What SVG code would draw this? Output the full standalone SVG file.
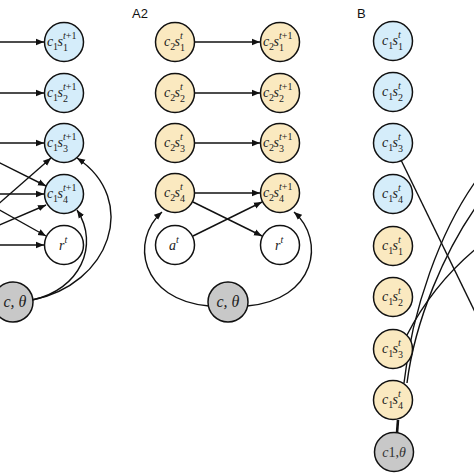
<svg xmlns="http://www.w3.org/2000/svg" width="474" height="474" viewBox="0 0 474 474">
<style>
.n{stroke:#111;stroke-width:1.5}
.blue{fill:#d5edfa}.yel{fill:#fae9c0}.wht{fill:#fff}.gry{fill:#c8c8c8}
.t{font-family:"Liberation Serif",serif;font-style:italic;font-size:14px;fill:#222}
.s{font-size:10px;font-style:normal}
.i{font-style:italic}
.e{fill:none;stroke:#111;stroke-width:1.4}
.p{font-family:"Liberation Sans",Arial,sans-serif;font-size:13px;fill:#111}
</style>
<defs>
<marker id="ah" viewBox="0 0 10 10" refX="10" refY="5" markerWidth="8" markerHeight="8" markerUnits="userSpaceOnUse" orient="auto"><path d="M0,1 L10,5 L0,9 z" fill="#111"/></marker>
</defs>
<rect width="474" height="474" fill="#fff"/>
<text class="p" x="132" y="18">A2</text>
<text class="p" x="357" y="18">B</text>

<g id="connectors">
<path class="e" marker-end="url(#ah)" d="M-5,42 L44,42"/>
<path class="e" marker-end="url(#ah)" d="M-5,93 L44,93"/>
<path class="e" marker-end="url(#ah)" d="M-5,143 L44,143"/>
<path class="e" marker-end="url(#ah)" d="M-5,194 L44,194"/>
<path class="e" marker-end="url(#ah)" d="M-5,245 L44,245"/>
<path class="e" marker-end="url(#ah)" d="M-5,160.6 L46,186"/>
<path class="e" marker-end="url(#ah)" d="M-5,207 L51,158"/>
<path class="e" marker-end="url(#ah)" d="M-5,227 L46,205"/>
<path class="e" marker-end="url(#ah)" d="M-5,207.5 L46,236"/>
<path class="e" marker-end="url(#ah)" d="M32,300 C110,285 140,200 77,158"/>
<path class="e" marker-end="url(#ah)" d="M32,300 C80,290 100,245 77,210"/>
<path class="e" marker-end="url(#ah)" d="M195,42 L260,42"/>
<path class="e" marker-end="url(#ah)" d="M195,93 L260,93"/>
<path class="e" marker-end="url(#ah)" d="M195,143 L260,143"/>
<path class="e" marker-end="url(#ah)" d="M195,193 L260,193"/>
<path class="e" marker-end="url(#ah)" d="M193,202 L262,236"/>
<path class="e" marker-end="url(#ah)" d="M193,236 L262,202"/>
<path class="e" marker-end="url(#ah)" d="M209,306 C140,300 130,240 162,212"/>
<path class="e" marker-end="url(#ah)" d="M247,306 C316,300 326,240 294,212"/>
<path class="e" d="M401,160 L478,318"/>
<path class="e" d="M404,383 C412,310 440,230 478,178"/>
<path class="e" d="M407,383 C415,320 445,250 478,204"/>
<path class="e" d="M407,335 C425,300 450,270 478,247"/>
<path d="M398,420 L397,433" stroke="#111" stroke-width="2.6"/>
</g>

<g id="a1-c1s1n"><circle class="n blue" cx="64" cy="42" r="19.5"/><text class="t"><tspan x="47" y="46">c</tspan><tspan class="s" x="53" y="50">1</tspan><tspan x="57.5" y="46">s</tspan><tspan class="s" x="63" y="39"><tspan class="i">t</tspan>+1</tspan><tspan class="s" x="63" y="51">1</tspan></text></g>
<g id="a1-c1s2n"><circle class="n blue" cx="64" cy="93" r="19.5"/><text class="t"><tspan x="47" y="97">c</tspan><tspan class="s" x="53" y="101">1</tspan><tspan x="57.5" y="97">s</tspan><tspan class="s" x="63" y="90"><tspan class="i">t</tspan>+1</tspan><tspan class="s" x="63" y="102">2</tspan></text></g>
<g id="a1-c1s3n"><circle class="n blue" cx="64" cy="143" r="19.5"/><text class="t"><tspan x="47" y="147">c</tspan><tspan class="s" x="53" y="151">1</tspan><tspan x="57.5" y="147">s</tspan><tspan class="s" x="63" y="140"><tspan class="i">t</tspan>+1</tspan><tspan class="s" x="63" y="152">3</tspan></text></g>
<g id="a1-c1s4n"><circle class="n blue" cx="64" cy="194" r="19.5"/><text class="t"><tspan x="47" y="198">c</tspan><tspan class="s" x="53" y="202">1</tspan><tspan x="57.5" y="198">s</tspan><tspan class="s" x="63" y="191"><tspan class="i">t</tspan>+1</tspan><tspan class="s" x="63" y="203">4</tspan></text></g>
<g id="a1-r"><circle class="n wht" cx="64" cy="245" r="19.5"/><text class="t"><tspan x="59" y="250">r</tspan><tspan class="s i" x="64.5" y="243">t</tspan></text></g>
<g id="a1-ctheta"><circle class="n gry" cx="13" cy="302" r="20"/><text class="t" x="15" y="307" text-anchor="middle" style="font-size:16px">c, θ</text></g>

<g id="a2-c2s1"><circle class="n yel" cx="175" cy="42" r="19.5"/><text class="t"><tspan x="164" y="46">c</tspan><tspan class="s" x="170.2" y="50">2</tspan><tspan x="174.5" y="46">s</tspan><tspan class="s i" x="180" y="39">t</tspan><tspan class="s" x="180" y="51">1</tspan></text></g>
<g id="a2-c2s2"><circle class="n yel" cx="175" cy="93" r="19.5"/><text class="t"><tspan x="164" y="97">c</tspan><tspan class="s" x="170.2" y="101">2</tspan><tspan x="174.5" y="97">s</tspan><tspan class="s i" x="180" y="90">t</tspan><tspan class="s" x="180" y="102">2</tspan></text></g>
<g id="a2-c2s3"><circle class="n yel" cx="175" cy="143" r="19.5"/><text class="t"><tspan x="164" y="147">c</tspan><tspan class="s" x="170.2" y="151">2</tspan><tspan x="174.5" y="147">s</tspan><tspan class="s i" x="180" y="140">t</tspan><tspan class="s" x="180" y="152">3</tspan></text></g>
<g id="a2-c2s4"><circle class="n yel" cx="175" cy="193" r="19.5"/><text class="t"><tspan x="164" y="197">c</tspan><tspan class="s" x="170.2" y="201">2</tspan><tspan x="174.5" y="197">s</tspan><tspan class="s i" x="180" y="190">t</tspan><tspan class="s" x="180" y="202">4</tspan></text></g>
<g id="a2-a"><circle class="n wht" cx="175" cy="245" r="19.5"/><text class="t"><tspan x="169" y="250">a</tspan><tspan class="s i" x="176" y="243">t</tspan></text></g>
<g id="a2-c2s1n"><circle class="n yel" cx="280" cy="42" r="19.5"/><text class="t"><tspan x="263" y="46">c</tspan><tspan class="s" x="269" y="50">2</tspan><tspan x="273.5" y="46">s</tspan><tspan class="s" x="279" y="39"><tspan class="i">t</tspan>+1</tspan><tspan class="s" x="279" y="51">1</tspan></text></g>
<g id="a2-c2s2n"><circle class="n yel" cx="280" cy="93" r="19.5"/><text class="t"><tspan x="263" y="97">c</tspan><tspan class="s" x="269" y="101">2</tspan><tspan x="273.5" y="97">s</tspan><tspan class="s" x="279" y="90"><tspan class="i">t</tspan>+1</tspan><tspan class="s" x="279" y="102">2</tspan></text></g>
<g id="a2-c2s3n"><circle class="n yel" cx="280" cy="143" r="19.5"/><text class="t"><tspan x="263" y="147">c</tspan><tspan class="s" x="269" y="151">2</tspan><tspan x="273.5" y="147">s</tspan><tspan class="s" x="279" y="140"><tspan class="i">t</tspan>+1</tspan><tspan class="s" x="279" y="152">3</tspan></text></g>
<g id="a2-c2s4n"><circle class="n yel" cx="280" cy="193" r="19.5"/><text class="t"><tspan x="263" y="197">c</tspan><tspan class="s" x="269" y="201">2</tspan><tspan x="273.5" y="197">s</tspan><tspan class="s" x="279" y="190"><tspan class="i">t</tspan>+1</tspan><tspan class="s" x="279" y="202">4</tspan></text></g>
<g id="a2-r"><circle class="n wht" cx="280" cy="245" r="19.5"/><text class="t"><tspan x="275" y="250">r</tspan><tspan class="s i" x="280.5" y="243">t</tspan></text></g>
<g id="a2-ctheta"><circle class="n gry" cx="228" cy="302" r="20"/><text class="t" x="228" y="307" text-anchor="middle" style="font-size:16px">c, θ</text></g>

<g id="b-c1s1"><circle class="n blue" cx="393" cy="41" r="19.5"/><text class="t"><tspan x="382" y="45">c</tspan><tspan class="s" x="388.2" y="49">1</tspan><tspan x="392.5" y="45">s</tspan><tspan class="s i" x="398" y="38">t</tspan><tspan class="s" x="398" y="50">1</tspan></text></g>
<g id="b-c1s2"><circle class="n blue" cx="393" cy="92" r="19.5"/><text class="t"><tspan x="382" y="96">c</tspan><tspan class="s" x="388.2" y="100">1</tspan><tspan x="392.5" y="96">s</tspan><tspan class="s i" x="398" y="89">t</tspan><tspan class="s" x="398" y="101">2</tspan></text></g>
<g id="b-c1s3"><circle class="n blue" cx="393" cy="143" r="19.5"/><text class="t"><tspan x="382" y="147">c</tspan><tspan class="s" x="388.2" y="151">1</tspan><tspan x="392.5" y="147">s</tspan><tspan class="s i" x="398" y="140">t</tspan><tspan class="s" x="398" y="152">3</tspan></text></g>
<g id="b-c1s4"><circle class="n blue" cx="393" cy="194" r="19.5"/><text class="t"><tspan x="382" y="198">c</tspan><tspan class="s" x="388.2" y="202">1</tspan><tspan x="392.5" y="198">s</tspan><tspan class="s i" x="398" y="191">t</tspan><tspan class="s" x="398" y="203">4</tspan></text></g>
<g id="b-y1"><circle class="n yel" cx="393" cy="246" r="19.5"/><text class="t"><tspan x="382" y="250">c</tspan><tspan class="s" x="388.2" y="254">1</tspan><tspan x="392.5" y="250">s</tspan><tspan class="s i" x="398" y="243">t</tspan><tspan class="s" x="398" y="255">1</tspan></text></g>
<g id="b-y2"><circle class="n yel" cx="393" cy="297" r="19.5"/><text class="t"><tspan x="382" y="301">c</tspan><tspan class="s" x="388.2" y="305">1</tspan><tspan x="392.5" y="301">s</tspan><tspan class="s i" x="398" y="294">t</tspan><tspan class="s" x="398" y="306">2</tspan></text></g>
<g id="b-y3"><circle class="n yel" cx="393" cy="349" r="19.5"/><text class="t"><tspan x="382" y="353">c</tspan><tspan class="s" x="388.2" y="357">1</tspan><tspan x="392.5" y="353">s</tspan><tspan class="s i" x="398" y="346">t</tspan><tspan class="s" x="398" y="358">3</tspan></text></g>
<g id="b-y4"><circle class="n yel" cx="393" cy="400" r="19.5"/><text class="t"><tspan x="382" y="404">c</tspan><tspan class="s" x="388.2" y="408">1</tspan><tspan x="392.5" y="404">s</tspan><tspan class="s i" x="398" y="397">t</tspan><tspan class="s" x="398" y="409">4</tspan></text></g>
<g id="b-ctheta"><circle class="n gry" cx="394" cy="452" r="19.5"/><text class="t" x="394" y="457" text-anchor="middle" style="font-size:14px;fill:#333">c<tspan style="font-style:normal">1,</tspan>θ</text></g>
</svg>
